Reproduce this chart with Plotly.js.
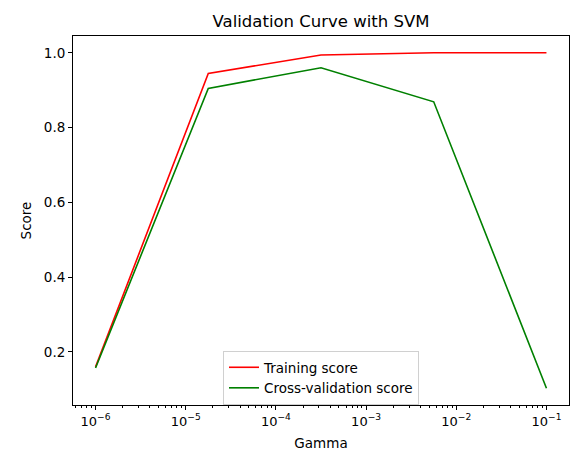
<!DOCTYPE html>
<html>
<head>
<meta charset="utf-8">
<script src="https://cdn.plot.ly/plotly-3.0.1.min.js"></script>
<style>body{margin:0;background:#fff;}</style>
</head>
<body>
<div id="chart" style="width:583px;height:470px;"></div>
<script>
// gamma = logspace(-6, -1, 5)
var gamma = [1e-6, 1.778e-5, 3.162e-4, 5.623e-3, 1e-1];
var trainScore = [0.160, 0.945, 0.994, 1.000, 1.000];
var cvScore = [0.157, 0.905, 0.960, 0.869, 0.103];
var xTickVals = [1e-6, 1e-5, 1e-4, 1e-3, 1e-2, 1e-1];
var xTickText = ['10<sup>\u22126</sup>', '10<sup>\u22125</sup>', '10<sup>\u22124</sup>',
                 '10<sup>\u22123</sup>', '10<sup>\u22122</sup>', '10<sup>\u22121</sup>'];

var traces = [
    {
        x: gamma, y: trainScore, name: 'Training score',
        type: 'scatter', mode: 'lines',
        line: { color: 'red', width: 1.6 }
    },
    {
        x: gamma, y: cvScore, name: 'Cross-validation score',
        type: 'scatter', mode: 'lines',
        line: { color: 'green', width: 1.6 }
    }
];

var layout = {
    width: 583,
    height: 470,
    margin: { l: 73, r: 14, t: 36, b: 65 },
    paper_bgcolor: '#ffffff',
    plot_bgcolor: '#ffffff',
    font: { family: 'DejaVu Sans', color: 'black', size: 13 },
    showlegend: true,
    title: {
        text: 'Validation Curve with SVM',
        font: { size: 16.5 },
        x: 0.5, xref: 'paper', xanchor: 'center',
        y: 1, yref: 'container', yanchor: 'top', pad: { t: 15 }
    },
    xaxis: {
        type: 'log',
        range: [-6.25, -0.75],
        title: { text: 'Gamma', standoff: 10, font: { size: 13.5 } },
        tickvals: xTickVals,
        ticktext: xTickText,
        tickfont: { size: 13 },
        ticks: 'outside', ticklen: 4, tickcolor: 'black',
        minor: { ticks: 'outside', ticklen: 2, tickcolor: 'black', dtick: 'D1', showgrid: false },
        showgrid: false, zeroline: false,
        showline: true, linecolor: 'black', linewidth: 1, mirror: true
    },
    yaxis: {
        range: [0.058, 1.045],
        title: { text: 'Score', standoff: 9, font: { size: 13.5 } },
        tickvals: [0.2, 0.4, 0.6, 0.8, 1.0],
        ticktext: ['0.2', '0.4', '0.6', '0.8', '1.0'],
        tickfont: { size: 13.5 },
        ticks: 'outside', ticklen: 4, tickcolor: 'black',
        showgrid: false, zeroline: false,
        showline: true, linecolor: 'black', linewidth: 1, mirror: true
    },
    legend: {
        x: 0.5, xanchor: 'center',
        y: 0.0, yanchor: 'bottom',
        bgcolor: 'rgba(255,255,255,0.8)',
        bordercolor: '#d0d0d0', borderwidth: 1,
        font: { size: 13.5 }
    }
};

Plotly.newPlot('chart', traces, layout, { displayModeBar: false });
</script>
</body>
</html>
